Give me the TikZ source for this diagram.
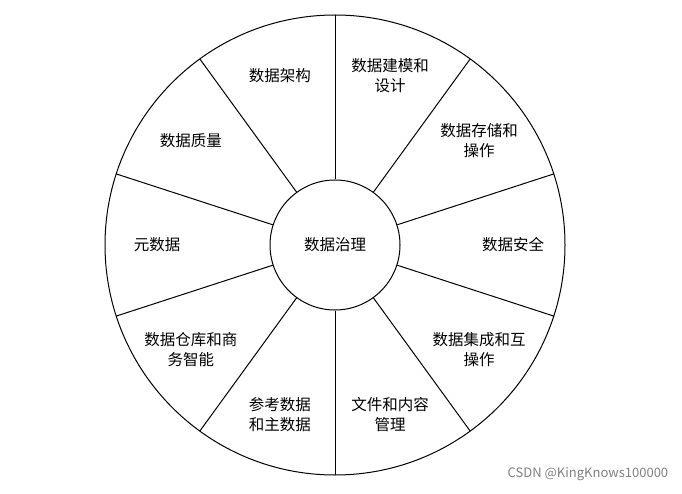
\documentclass[tikz,border=0pt]{standalone}
\usepackage{fontspec}
\setmainfont{Noto Sans CJK SC}
\usetikzlibrary{calc}
\begin{document}
\begin{tikzpicture}[x=1pt,y=-1pt,line width=1pt,
  lab/.style={align=center,font=\fontsize{15.5}{20}\selectfont}]
\useasboundingbox (0,0) rectangle (682,494);
\coordinate (c) at (335,245);
\draw (c) circle[radius=230pt];
\node[circle,draw,minimum size=130pt,lab] (hub) at (c) {数据治理};
\foreach \a in {90,54,18,-18,-54,-90,-126,-162,162,126}
  \draw (hub.\a) -- ($(c)+(\a:230pt)$);
\foreach \a/\t in {72/数据建模和\\设计, 36/数据存储和\\操作, 0/数据安全, -36/数据集成和互\\操作, -72/文件和内容\\管理, -108/参考数据\\和主数据, -144/数据仓库和商\\务智能, 180/元数据, 144/数据质量, 108/数据架构}
  \node[lab] at ($(c)+(\a:178pt)$) {\t};
\node[font=\fontsize{13}{15}\selectfont,text=gray,anchor=east] (wm) at (672,474) {CSDN @KingKnows100000};
\end{tikzpicture}
\end{document}
